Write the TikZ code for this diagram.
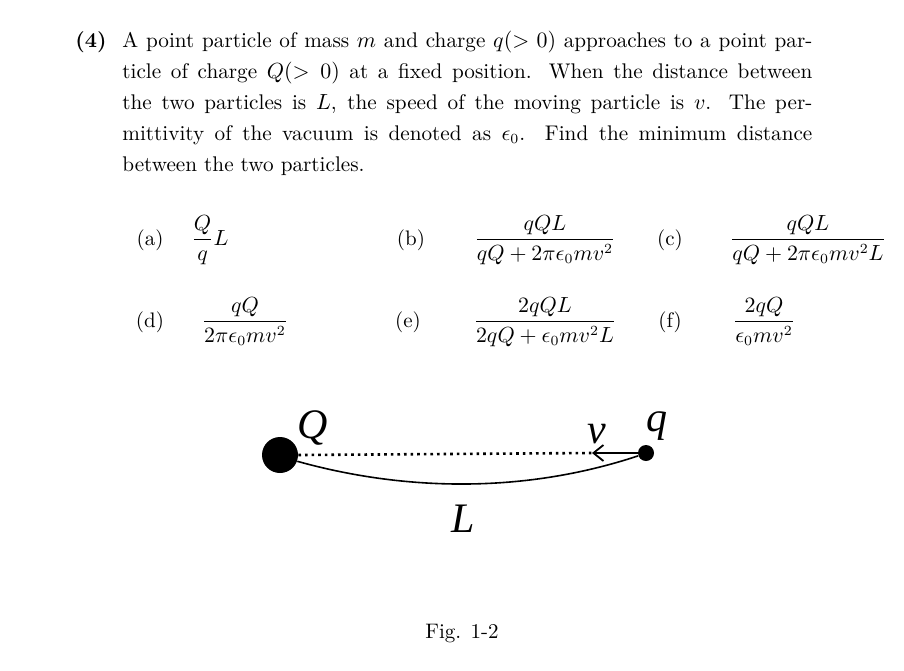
\documentclass[tikz,border=0pt]{standalone}
\usepackage{fontspec}
\usepackage{amsmath}
\newfontfamily\figfont{Liberation Serif}
\usetikzlibrary{arrows.meta}
\tikzset{txt/.style={anchor=base west,inner sep=0pt,font=\fontsize{10.6}{12}\selectfont},
 lab/.style={anchor=base,inner sep=0pt,font=\figfont\itshape\fontsize{21}{21}\selectfont},
 opt/.style={anchor=base,inner sep=0pt,font=\fontsize{10.5}{12}\selectfont}}
\newcommand{\fullline}[1]{\makebox[345pt][s]{#1}}
\begin{document}
\begin{tikzpicture}[x=0.5pt,y=-0.5pt]
\useasboundingbox[fill=white] (0,0) rectangle (904,670);
\node[txt] (n4) at (75,47) {\textbf{(4)}};
\node[txt] (l1) at (122,47) {\fullline{A point particle of mass $m$ and charge $q(>0)$ approaches to a point par-}};
\node[txt] (l2) at (122,78) {\fullline{ticle of charge $Q(>0)$ at a fixed position. When the distance between}};
\node[txt] (l3) at (122,109) {\fullline{the two particles is $L$, the speed of the moving particle is $v$. The per-}};
\node[txt] (l4) at (122,140) {\fullline{mittivity of the vacuum is denoted as $\epsilon_0$. Find the minimum distance}};
\node[txt] (l5) at (122,171) {between the two particles.};
\node[opt] (a) at (150,245) {(a)};
\node[opt] (fa) at (210,245) {$\displaystyle\frac{Q}{q}L$};
\node[opt] (b) at (411,245) {(b)};
\node[opt] (fb) at (545,245) {$\displaystyle\frac{qQL}{qQ+2\pi\epsilon_0 mv^2}$};
\node[opt] (c) at (670,245) {(c)};
\node[opt] (fc) at (808,245) {$\displaystyle\frac{qQL}{qQ+2\pi\epsilon_0 mv^2L}$};
\node[opt] (d) at (150,327) {(d)};
\node[opt] (fd) at (245,327) {$\displaystyle\frac{qQ}{2\pi\epsilon_0 mv^2}$};
\node[opt] (e) at (408,327) {(e)};
\node[opt] (fe) at (545,327) {$\displaystyle\frac{2qQL}{2qQ+\epsilon_0 mv^2L}$};
\node[opt] (f) at (670,327) {(f)};
\node[opt] (ff) at (764,327) {$\displaystyle\frac{2qQ}{\epsilon_0 mv^2}$};
% figure
\node[circle,fill=black,minimum size=18pt,inner sep=0pt] (P) at (280,455) {};
\node[circle,fill=black,minimum size=8pt,inner sep=0pt] (p) at (646,453) {};
\coordinate (tip) at (592,453);
\draw[line width=1.3pt,dotted] (P.east) -- (tip);
\draw[line width=0.9pt,-{Straight Barb[length=5pt,width=8pt]}] (p.west) -- (tip);
\draw[line width=0.8pt] (P.-20) .. controls (400,490) and (520,495) .. (p.-160);
\node[lab] (Q) at (313,438) {Q};
\node[lab] (v) at (597,443) {v};
\node[lab] (q) at (657,431) {q};
\node[lab] (L) at (463,532) {L};
\node[opt] (fig) at (462,638) {Fig. 1-2};
\end{tikzpicture}
\end{document}
